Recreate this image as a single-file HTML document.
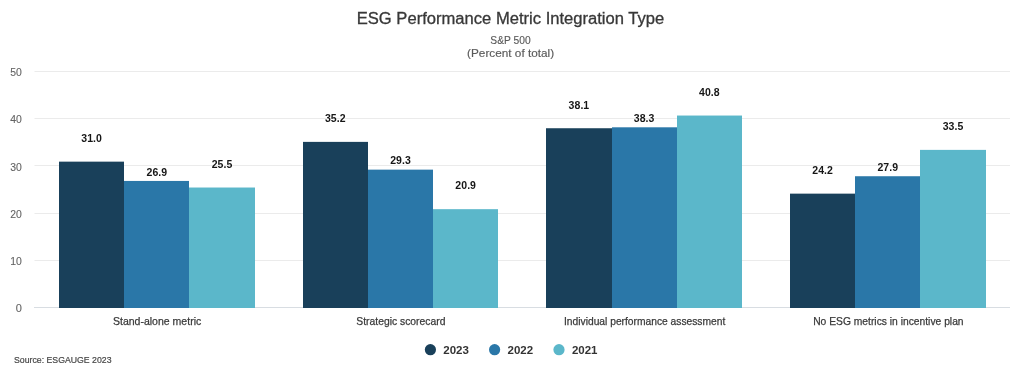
<!DOCTYPE html><html><head><meta charset="utf-8"><style>html,body{margin:0;padding:0;background:#fff;overflow:hidden;width:1024px;height:382px}svg{display:block;filter:blur(0.35px)}</style></head><body>
<svg width="1024" height="382" viewBox="0 0 1024 382" style="font-family:'Liberation Sans', sans-serif">
<rect x="0" y="0" width="1024" height="382" fill="#ffffff"/>
<text x="510.5" y="23.6" text-anchor="middle" font-size="16" fill="#383838" stroke="#383838" stroke-width="0.3" textLength="307.5" lengthAdjust="spacingAndGlyphs">ESG Performance Metric Integration Type</text>
<text x="510.5" y="43.7" text-anchor="middle" font-size="11" fill="#5a5a5a" stroke="#5a5a5a" stroke-width="0.15" textLength="40.3" lengthAdjust="spacingAndGlyphs">S&amp;P 500</text>
<text x="510.6" y="56.9" text-anchor="middle" font-size="11" fill="#5a5a5a" stroke="#5a5a5a" stroke-width="0.15" textLength="87" lengthAdjust="spacingAndGlyphs">(Percent of total)</text>
<rect x="34.5" y="71" width="975.5" height="1" fill="#ebebeb"/>
<rect x="34.5" y="118" width="975.5" height="1" fill="#ebebeb"/>
<rect x="34.5" y="165" width="975.5" height="1" fill="#ebebeb"/>
<rect x="34.5" y="213" width="975.5" height="1" fill="#ebebeb"/>
<rect x="34.5" y="260" width="975.5" height="1" fill="#ebebeb"/>
<text x="21.8" y="76.2" text-anchor="end" font-size="11" fill="#636363" stroke="#636363" stroke-width="0.1" textLength="11.6" lengthAdjust="spacingAndGlyphs">50</text>
<text x="21.8" y="123.4" text-anchor="end" font-size="11" fill="#636363" stroke="#636363" stroke-width="0.1" textLength="11.6" lengthAdjust="spacingAndGlyphs">40</text>
<text x="21.8" y="170.6" text-anchor="end" font-size="11" fill="#636363" stroke="#636363" stroke-width="0.1" textLength="11.6" lengthAdjust="spacingAndGlyphs">30</text>
<text x="21.8" y="217.8" text-anchor="end" font-size="11" fill="#636363" stroke="#636363" stroke-width="0.1" textLength="11.6" lengthAdjust="spacingAndGlyphs">20</text>
<text x="21.8" y="265.0" text-anchor="end" font-size="11" fill="#636363" stroke="#636363" stroke-width="0.1" textLength="11.6" lengthAdjust="spacingAndGlyphs">10</text>
<text x="21.8" y="312.2" text-anchor="end" font-size="11" fill="#636363" stroke="#636363" stroke-width="0.1">0</text>
<rect x="34" y="307" width="976" height="1" fill="#d8dde2"/>
<rect x="59" y="161.65" width="65" height="146.35" fill="#19405a"/>
<rect x="124" y="180.94" width="65" height="127.06" fill="#2a77a8"/>
<rect x="189" y="187.52" width="66" height="120.48" fill="#5bb7ca"/>
<rect x="303" y="141.88" width="65" height="166.12" fill="#19405a"/>
<rect x="368" y="169.64" width="65" height="138.36" fill="#2a77a8"/>
<rect x="433" y="209.17" width="65" height="98.83" fill="#5bb7ca"/>
<rect x="546" y="128.24" width="66" height="179.76" fill="#19405a"/>
<rect x="612" y="127.30" width="65" height="180.70" fill="#2a77a8"/>
<rect x="677" y="115.54" width="65" height="192.46" fill="#5bb7ca"/>
<rect x="790" y="193.64" width="65" height="114.36" fill="#19405a"/>
<rect x="855" y="176.23" width="65" height="131.77" fill="#2a77a8"/>
<rect x="920" y="149.88" width="66" height="158.12" fill="#5bb7ca"/>
<text x="91.60" y="141.95" text-anchor="middle" font-size="10.5" font-weight="bold" fill="#161616" textLength="20.6" lengthAdjust="spacing">31.0</text>
<text x="156.80" y="175.59" text-anchor="middle" font-size="10.5" font-weight="bold" fill="#161616" textLength="20.6" lengthAdjust="spacing">26.9</text>
<text x="222.00" y="167.82" text-anchor="middle" font-size="10.5" font-weight="bold" fill="#161616" textLength="20.6" lengthAdjust="spacing">25.5</text>
<text x="335.25" y="122.18" text-anchor="middle" font-size="10.5" font-weight="bold" fill="#161616" textLength="20.6" lengthAdjust="spacing">35.2</text>
<text x="400.45" y="164.29" text-anchor="middle" font-size="10.5" font-weight="bold" fill="#161616" textLength="20.6" lengthAdjust="spacing">29.3</text>
<text x="465.65" y="189.47" text-anchor="middle" font-size="10.5" font-weight="bold" fill="#161616" textLength="20.6" lengthAdjust="spacing">20.9</text>
<text x="578.90" y="108.54" text-anchor="middle" font-size="10.5" font-weight="bold" fill="#161616" textLength="20.6" lengthAdjust="spacing">38.1</text>
<text x="644.10" y="121.95" text-anchor="middle" font-size="10.5" font-weight="bold" fill="#161616" textLength="20.6" lengthAdjust="spacing">38.3</text>
<text x="709.30" y="95.84" text-anchor="middle" font-size="10.5" font-weight="bold" fill="#161616" textLength="20.6" lengthAdjust="spacing">40.8</text>
<text x="822.55" y="173.94" text-anchor="middle" font-size="10.5" font-weight="bold" fill="#161616" textLength="20.6" lengthAdjust="spacing">24.2</text>
<text x="887.75" y="170.88" text-anchor="middle" font-size="10.5" font-weight="bold" fill="#161616" textLength="20.6" lengthAdjust="spacing">27.9</text>
<text x="952.95" y="130.18" text-anchor="middle" font-size="10.5" font-weight="bold" fill="#161616" textLength="20.6" lengthAdjust="spacing">33.5</text>
<text x="157.10" y="324.6" text-anchor="middle" font-size="11" fill="#3a3a3a" stroke="#3a3a3a" stroke-width="0.25" textLength="88.3" lengthAdjust="spacingAndGlyphs">Stand-alone metric</text>
<text x="400.85" y="324.6" text-anchor="middle" font-size="11" fill="#3a3a3a" stroke="#3a3a3a" stroke-width="0.25" textLength="89.1" lengthAdjust="spacingAndGlyphs">Strategic scorecard</text>
<text x="644.65" y="324.6" text-anchor="middle" font-size="11" fill="#3a3a3a" stroke="#3a3a3a" stroke-width="0.25" textLength="161.3" lengthAdjust="spacingAndGlyphs">Individual performance assessment</text>
<text x="888.40" y="324.6" text-anchor="middle" font-size="11" fill="#3a3a3a" stroke="#3a3a3a" stroke-width="0.25" textLength="150.4" lengthAdjust="spacingAndGlyphs">No ESG metrics in incentive plan</text>
<circle cx="430.4" cy="349.7" r="5.6" fill="#19405a"/>
<text x="443.3" y="354.4" font-size="11.5" font-weight="bold" fill="#333333">2023</text>
<circle cx="494.6" cy="349.7" r="5.6" fill="#2a77a8"/>
<text x="507.5" y="354.4" font-size="11.5" font-weight="bold" fill="#333333">2022</text>
<circle cx="559.0" cy="349.7" r="5.6" fill="#5bb7ca"/>
<text x="571.9" y="354.4" font-size="11.5" font-weight="bold" fill="#333333">2021</text>
<text x="14.0" y="362.6" font-size="9" fill="#474747" stroke="#474747" stroke-width="0.2" textLength="97.5" lengthAdjust="spacingAndGlyphs">Source: ESGAUGE 2023</text>
</svg></body></html>
